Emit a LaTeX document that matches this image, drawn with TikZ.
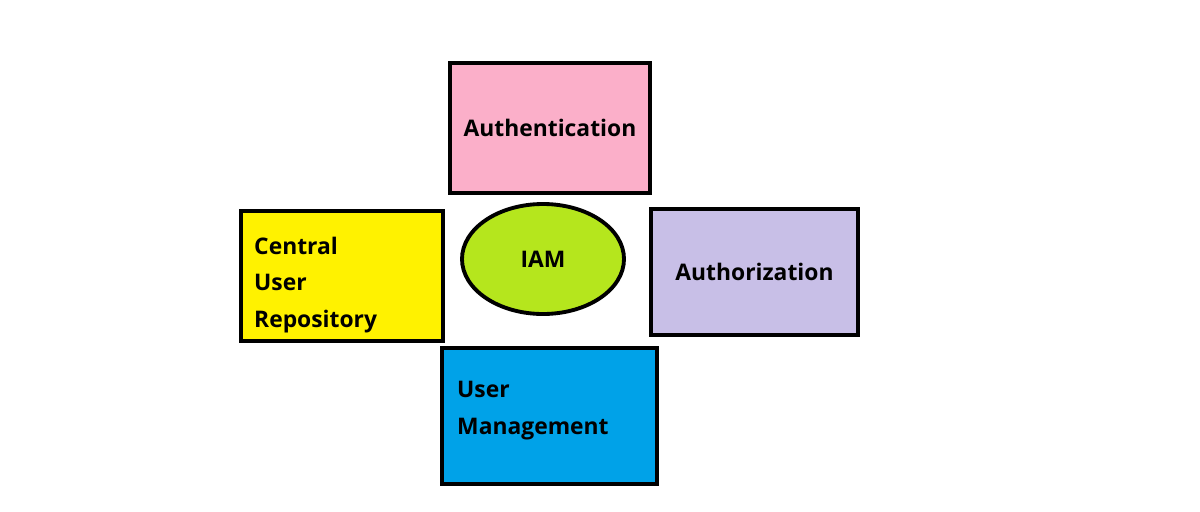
\documentclass[tikz,border=0pt]{standalone}
\usepackage{fontspec}
\setmainfont{Open Sans}
\usetikzlibrary{shapes.geometric}
\definecolor{pinkbox}{HTML}{FBAFC9}
\definecolor{yellowbox}{HTML}{FFF200}
\definecolor{lilacbox}{HTML}{C8BFE7}
\definecolor{bluebox}{HTML}{00A2E8}
\definecolor{limeoval}{HTML}{B5E61D}
\tikzset{box/.style={draw=black, line width=2.2pt, rectangle, inner sep=0pt},
  lbl/.style={font=\fontsize{13}{21}\selectfont\bfseries, align=left}}
\begin{document}
\begin{tikzpicture}[x=0.02cm,y=-0.02cm]
\useasboundingbox (0,0) rectangle (1200,511);

\node[box, fill=pinkbox, minimum width=200*0.02cm, minimum height=130*0.02cm] (authn) at (550,128) {};
\node[box, fill=yellowbox, minimum width=202*0.02cm, minimum height=130*0.02cm] (repo) at (342,276) {};
\node[box, fill=lilacbox, minimum width=207*0.02cm, minimum height=126*0.02cm] (authz) at (754.5,272) {};
\node[box, fill=bluebox, minimum width=215*0.02cm, minimum height=136*0.02cm] (users) at (549.5,416) {};
\node[ellipse, draw=black, line width=2.2pt, fill=limeoval, minimum width=162*0.02cm, minimum height=110*0.02cm] (iam) at (543,259) {};

\node[lbl] at (authn) {Authentication};
\node[lbl] at (authz) {Authorization};
\node[lbl] at (iam) {IAM};
\node[lbl, anchor=west] at (248,285) {Central\\User\\Repository};
\node[lbl, anchor=west] at (451,411) {User\\Management};
\end{tikzpicture}
\end{document}
